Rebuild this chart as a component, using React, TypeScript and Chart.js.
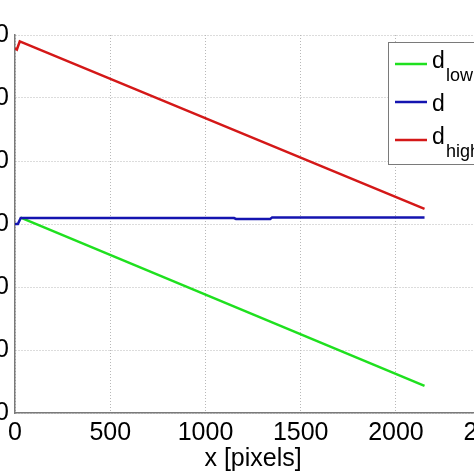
import React, { useEffect, useRef } from 'react';
import { Chart, registerables } from 'chart.js';

Chart.register(...registerables);

// ---- data ----
const xLow = [30, 2150];
const yLow = [31.0, 4.3];

const xD = [0, 15, 30, 1150, 1160, 1340, 1350, 2150];
const yD = [30.0, 30.0, 30.95, 30.95, 30.8, 30.8, 31.05, 31.05];

const xHigh = [0, 10, 25, 2150];
const yHigh = [57.9, 57.7, 59.0, 32.4];

const xTicks = [0, 500, 1000, 1500, 2000, 2500];
const yTicks = [0, 10, 20, 30, 40, 50, 60];

const seriesLabels = ['d_low', 'd', 'd_high'];
const legendBase = ['d', 'd', 'd'];
const legendSub = ['low', '', 'high'];
const seriesColors = ['#1fe01f', '#1414b0', '#d41818'];

const xTitle = 'x [pixels]';

const FONT = "'Liberation Sans', Arial, Helvetica, sans-serif";

function toPoints(xs: number[], ys: number[]) {
  return xs.map((x, i) => ({ x, y: ys[i] }));
}

const subLegend = {
  id: 'subLegend',
  afterDraw(chart: any) {
    const ctx = chart.ctx as CanvasRenderingContext2D;
    const a = chart.chartArea;
    const left = a.left + 373;
    const top = a.top + 7;
    const bottom = a.top + 129;
    const right = a.left + 520;
    ctx.save();
    ctx.fillStyle = '#ffffff';
    ctx.fillRect(left, top, right - left, bottom - top);
    ctx.strokeStyle = '#7a7a7a';
    ctx.lineWidth = 1;
    ctx.strokeRect(left + 0.5, top + 0.5, right - left, bottom - top);
    const rows = [a.top + 29, a.top + 67, a.top + 105];
    chart.data.datasets.forEach((ds: any, i: number) => {
      const y = rows[i];
      ctx.strokeStyle = ds.borderColor;
      ctx.lineWidth = 2.5;
      ctx.beginPath();
      ctx.moveTo(left + 7, y);
      ctx.lineTo(left + 39, y);
      ctx.stroke();
      ctx.fillStyle = '#000';
      ctx.textAlign = 'left';
      ctx.textBaseline = 'alphabetic';
      ctx.font = `23px ${FONT}`;
      const hasSub = legendSub[i].length > 0;
      ctx.fillText(legendBase[i], left + 44, y + (hasSub ? 4 : 9));
      if (hasSub) {
        ctx.font = `18px ${FONT}`;
        ctx.fillText(legendSub[i], left + 58, y + 17);
      }
    });
    ctx.restore();
  },
};

export default function App() {
  const ref = useRef<HTMLCanvasElement | null>(null);

  useEffect(() => {
    if (!ref.current) return;
    const chart = new Chart(ref.current, {
      type: 'line',
      data: {
        datasets: [
          {
            label: seriesLabels[0],
            data: toPoints(xLow, yLow),
            borderColor: seriesColors[0],
            borderWidth: 2.5,
            pointRadius: 0,
            tension: 0,
            order: 3,
          },
          {
            label: seriesLabels[1],
            data: toPoints(xD, yD),
            borderColor: seriesColors[1],
            borderWidth: 2.5,
            pointRadius: 0,
            tension: 0,
            order: 2,
          },
          {
            label: seriesLabels[2],
            data: toPoints(xHigh, yHigh),
            borderColor: seriesColors[2],
            borderWidth: 2.5,
            pointRadius: 0,
            tension: 0,
            order: 1,
          },
        ],
      },
      options: {
        responsive: false,
        animation: false,
        devicePixelRatio: 1,
        layout: { padding: { top: 35, right: 30, left: 0, bottom: 0 } },
        plugins: {
          legend: { display: false },
          tooltip: { enabled: false },
        },
        scales: {
          x: {
            type: 'linear',
            min: 0,
            max: 2500,
            afterBuildTicks: (s: any) => {
              s.ticks = xTicks.map((v) => ({ value: v }));
            },
            afterFit: (s: any) => {
              s.height = 61;
            },
            ticks: {
              color: '#000',
              font: { family: FONT, size: 25 },
              padding: 5,
              maxRotation: 0,
              autoSkip: false,
              callback: (v: any) => String(v),
            },
            grid: {
              color: '#b8b8b8',
              lineWidth: 1,
              drawTicks: false,
            },
            border: { display: true, color: '#7a7a7a', width: 1.5, dash: [1, 2] },
            title: {
              display: true,
              text: xTitle,
              color: '#000',
              font: { family: FONT, size: 25 },
              padding: { top: 0, bottom: 0 },
            },
          },
          y: {
            type: 'linear',
            min: 0,
            max: 60,
            afterBuildTicks: (s: any) => {
              s.ticks = yTicks.map((v) => ({ value: v }));
            },
            afterFit: (s: any) => {
              s.width = 60;
            },
            ticks: {
              color: '#000',
              font: { family: FONT, size: 25 },
              padding: 6,
              autoSkip: false,
              callback: (v: any) => String(v),
            },
            grid: {
              color: '#b8b8b8',
              lineWidth: 1,
              drawTicks: false,
            },
            border: { display: true, color: '#7a7a7a', width: 1.5, dash: [1, 2] },
          },
        },
      },
      plugins: [subLegend],
    } as any);
    return () => chart.destroy();
  }, []);

  return (
    <div
      style={{
        position: 'fixed',
        left: 0,
        top: 0,
        width: 474,
        height: 474,
        overflow: 'hidden',
        background: '#fff',
      }}
    >
      <div style={{ position: 'absolute', left: -45, top: 0, width: 569, height: 474 }}>
        <canvas ref={ref} width={569} height={474} style={{ display: 'block' }} />
      </div>
    </div>
  );
}
